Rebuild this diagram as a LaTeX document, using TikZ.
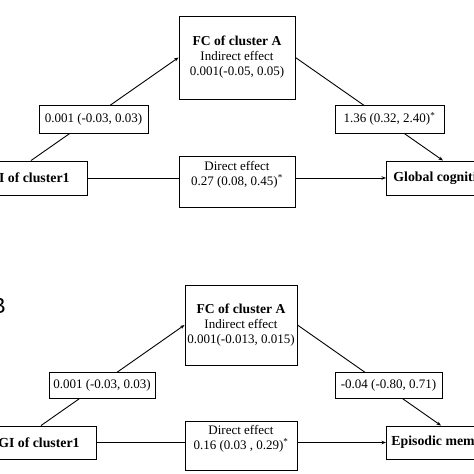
\documentclass[tikz,border=0pt]{standalone}
\usepackage{fontspec}
\setmainfont{Liberation Serif}
\newfontfamily\panelfont{Liberation Sans}
\usetikzlibrary{arrows.meta,positioning}

\begin{document}
\begin{tikzpicture}[x=1bp, y=-1bp, >={Stealth[length=4.5bp,width=3.5bp]},
  box/.style={draw, line width=0.9bp, fill=white, inner sep=0pt, align=center,
    font=\fontsize{13bp}{15bp}\selectfont},
  varbox/.style={box, minimum height=34bp, inner xsep=17bp,
    font=\fontsize{13.8bp}{15bp}\selectfont\bfseries},
  effect/.style={align=center, inner sep=0pt, font=\fontsize{13bp}{15bp}\selectfont},
  link/.style={line width=0.9bp}]
\useasboundingbox (0,0) rectangle (474,474);
\clip (0,0) rectangle (474,474);
\fill[white] (0,0) rectangle (474,474);

% panel A
\node[box, minimum width=116bp, minimum height=83bp] (fc1) at (237,57.5)
  {{\fontsize{13.6bp}{15bp}\selectfont\bfseries FC of cluster A}\\Indirect effect\\0.001(-0.05, 0.05)};
\node[varbox, anchor=east, inner xsep=18bp] (x1) at (88,178) {GI of cluster1};
\node[varbox, anchor=west, inner xsep=7bp] (y1) at (386,178) {Global cognition};
\node[box, minimum width=116bp, minimum height=51bp] (direct1) at (237,181.5) {};
\node[effect] (direct1txt) at ([yshift=7bp]direct1.center)
  {Direct effect\\0.27 (0.08, 0.45)\textsuperscript{*}};
\coordinate (s1) at ([xshift=-57bp]x1.north east);
\coordinate (e1) at ([xshift=57bp]y1.north west);
\draw[link,->] (s1) -- (fc1.west);
\draw[link,->] (fc1.east) -- (e1);
\draw[link] (x1.east) -- (x1.east -| direct1.west);
\draw[link,->] (direct1.east |- x1.east) -- (y1.west);
\node[box, minimum width=109bp, minimum height=28bp] (pathA1) at (93.5,119) {0.001 (-0.03, 0.03)};
\node[box, minimum width=109bp, minimum height=28bp] (pathB1) at (389.5,119) {1.36 (0.32, 2.40)\textsuperscript{*}};

% panel B
\node[font=\panelfont\fontsize{22bp}{22bp}\selectfont, anchor=base east, inner sep=0pt] (panelB) at (6,313) {B};
\node[box, minimum width=112bp, minimum height=80bp] (fc2) at (241,325)
  {{\fontsize{13.6bp}{15bp}\selectfont\bfseries FC of cluster A}\\Indirect effect\\0.001(-0.013, 0.015)};
\node[varbox, minimum height=33bp, anchor=east] (x2) at (97,442.5) {GI of cluster1};
\node[varbox, minimum height=33bp, anchor=west, inner xsep=5bp] (y2) at (386,442.5) {Episodic memory};
\node[box, minimum width=112bp, minimum height=49bp] (direct2) at (241,445.5) {};
\node[effect] (direct2txt) at ([yshift=7bp]direct2.center)
  {Direct effect\\0.16 (0.03 , 0.29)\textsuperscript{*}};
\coordinate (s2) at ([xshift=-56bp]x2.north east);
\coordinate (e2) at ([xshift=55bp]y2.north west);
\draw[link,->] (s2) -- (fc2.west);
\draw[link,->] (fc2.east) -- (e2);
\draw[link] (x2.east) -- (x2.east -| direct2.west);
\draw[link,->] (direct2.east |- x2.east) -- (y2.west);
\node[box, minimum width=106bp, minimum height=26bp] (pathA2) at (102,385) {0.001 (-0.03, 0.03)};
\node[box, minimum width=107bp, minimum height=26bp] (pathB2) at (388.5,385) {-0.04 (-0.80, 0.71)};
\end{tikzpicture}
\end{document}
